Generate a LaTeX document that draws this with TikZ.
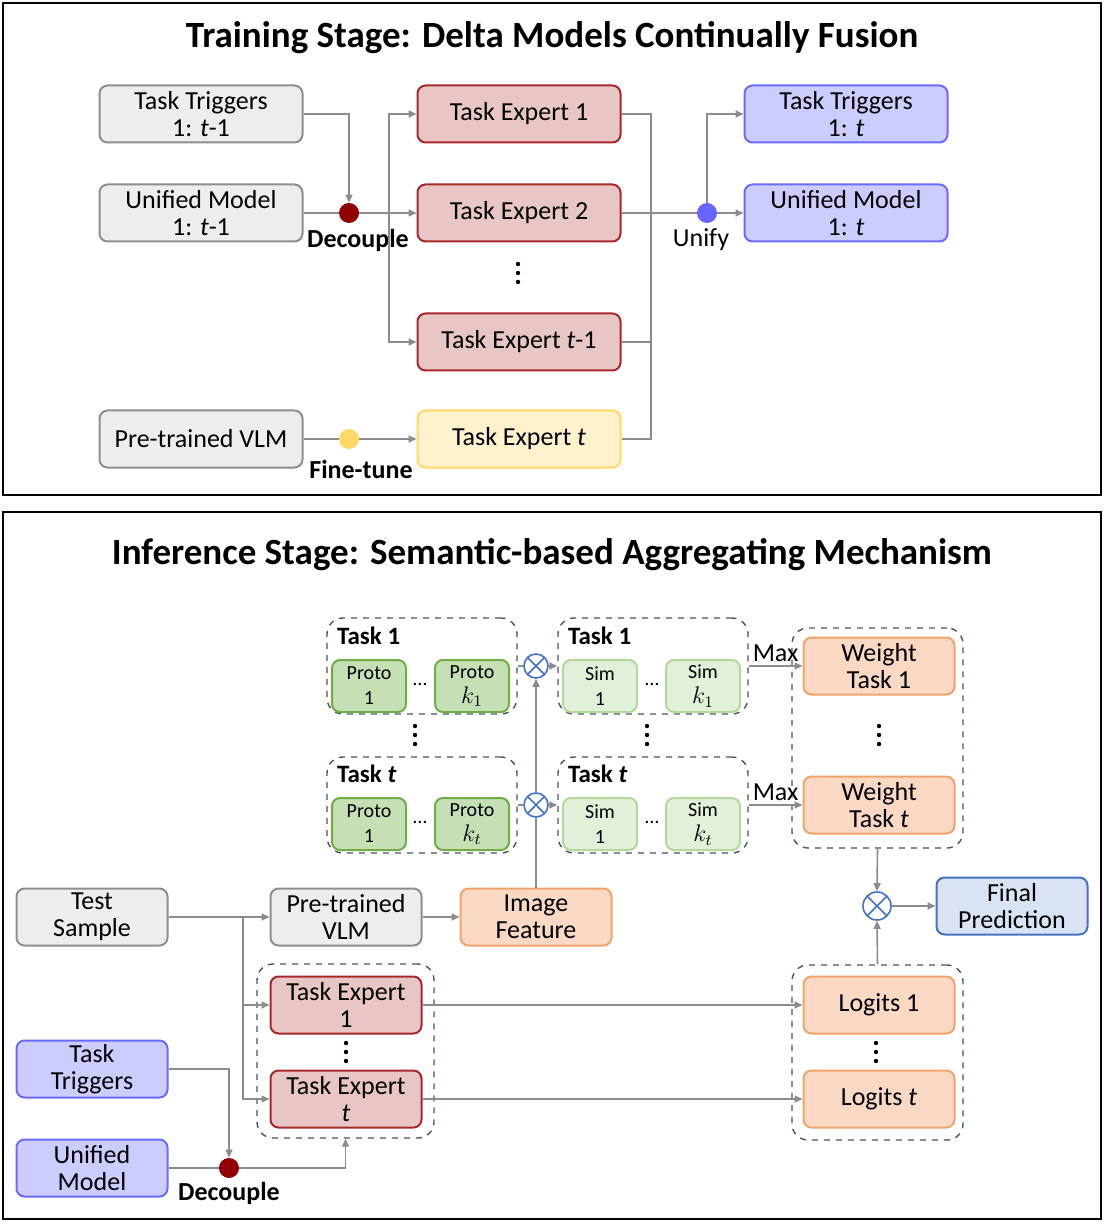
\documentclass[tikz,border=0pt]{standalone}
\usepackage{fontspec}
\setmainfont{Carlito}
\usetikzlibrary{arrows.meta}

\definecolor{linegray}{HTML}{8C8C8C}
\definecolor{plainline}{HTML}{8E8E8E}
\definecolor{plainfill}{HTML}{EDEDED}
\definecolor{expline}{HTML}{A8282C}
\definecolor{expfill}{HTML}{E8C6C6}
\definecolor{newline}{HTML}{FFD966}
\definecolor{newfill}{HTML}{FFF2CC}
\definecolor{trigline}{HTML}{6B6BFF}
\definecolor{trigfill}{HTML}{CCCCFF}
\definecolor{protoline}{HTML}{70AD47}
\definecolor{protofill}{HTML}{C5E0B4}
\definecolor{simline}{HTML}{B4D89C}
\definecolor{simfill}{HTML}{E2F0D9}
\definecolor{featline}{HTML}{F0A46C}
\definecolor{featfill}{HTML}{F9D9C4}
\definecolor{finalline}{HTML}{4472C4}
\definecolor{finalfill}{HTML}{DAE3F3}
\definecolor{groupline}{HTML}{44546A}
\definecolor{decred}{HTML}{900000}
\definecolor{unifyblue}{HTML}{6666FF}

\tikzset{
  box/.style={rectangle, rounded corners=4pt, line width=1pt, align=center, inner sep=1pt,
    font=\fontsize{13}{13.5}\selectfont},
  widebox/.style={box, minimum width=101.5pt, minimum height=28.5pt},
  smallbox/.style={box, minimum width=75.5pt, minimum height=28.5pt},
  tinybox/.style={box, minimum width=37pt, minimum height=26pt, font=\fontsize{10}{12.5}\selectfont},
  plain/.style={draw=plainline, fill=plainfill},
  expert/.style={draw=expline, fill=expfill},
  newtask/.style={draw=newline, fill=newfill},
  trigger/.style={draw=trigline, fill=trigfill},
  proto/.style={tinybox, draw=protoline, fill=protofill},
  sim/.style={tinybox, draw=simline, fill=simfill},
  feat/.style={draw=featline, fill=featfill},
  final/.style={draw=finalline, fill=finalfill},
  group/.style={draw=groupline, dashed, rounded corners=8pt, line width=0.7pt},
  wire/.style={draw=linegray, line width=0.8pt},
  conn/.style={wire, -{Triangle[length=4pt,width=3.5pt]}},
  dot/.style={circle, inner sep=0pt, minimum size=10pt},
  tag/.style={font=\fontsize{13}{13}\selectfont},
  boldtag/.style={font=\bfseries\fontsize{13}{13}\selectfont},
  grouptag/.style={anchor=west, font=\bfseries\fontsize{12.5}{13}\selectfont},
  hdot/.style={inner sep=0pt, font=\fontsize{10}{10}\selectfont},
  vdots/.pic={\fill[black] (0,-9) circle (1.1pt) (0,0) circle (1.1pt) (0,9) circle (1.1pt);},
  otimes/.style={circle, draw=finalline, fill=white, line width=0.8pt, minimum size=12pt, inner sep=0pt,
    path picture={\draw[finalline, line width=0.8pt]
      (path picture bounding box.north west) -- (path picture bounding box.south east)
      (path picture bounding box.north east) -- (path picture bounding box.south west);}}
}
\newcommand{\kidx}[1]{{\fontsize{12}{12}\selectfont$k_{#1}$}}

\begin{document}
\begin{tikzpicture}[x=0.5pt, y=-0.5pt]
		%%%%% START %%%%%
		\useasboundingbox (0,0) rectangle (1106,1224);
		\draw[line width=0.8pt] (3,3) rectangle (1101,495);
		\draw[line width=0.8pt] (3,512) rectangle (1101,1219);
		
		%%%%% TRAINING %%%%%
		\node[font=\bfseries\fontsize{18.5}{18.5}\selectfont] (title1) at (552,38) {Training Stage: Delta Models Continually Fusion};
		
		\node[widebox, plain] (trig) at (201,114) {Task Triggers\\1: \textit{t}-1};
		\node[widebox, plain] (unif) at (201,213) {Unified Model\\1: \textit{t}-1};
		\node[widebox, plain] (vlm) at (201,439) {Pre-trained VLM};
		
		\node[dot, fill=decred] (dec) at (349,213) {};
		\node[boldtag] (dectag) at (358,240) {Decouple};
		\node[dot, fill=newline] (tune) at (349,439) {};
		\node[boldtag] (tunetag) at (361,469) {Fine-tune};
		
		\node[widebox, expert] (exp1) at (519,114) {Task Expert 1};
		\node[widebox, expert] (exp2) at (519,213) {Task Expert 2};
		\pic (edots) at (518,273) {vdots};
		\node[widebox, expert] (expm) at (519,342) {Task Expert \textit{t}-1};
		\node[widebox, newtask] (expt) at (519,439) {Task Expert \textit{t}};
		
		\node[dot, fill=unifyblue] (uni) at (707,213) {};
		\node[tag] (unitag) at (701,240) {Unify};
		\node[widebox, trigger] (trig2) at (846,114) {Task Triggers\\1: \textit{t}};
		\node[widebox, trigger] (unif2) at (846,213) {Unified Model\\1: \textit{t}};
		
		\coordinate (split) at (389,213);
		\coordinate (merge) at (651,213);
		
		\draw[conn] (trig.east) -| (dec.north);
		\draw[wire] (unif.east) -- (dec.west);
		\draw[conn] (dec.east) -- (exp2.west);
		\draw[conn] (split) |- (exp1.west);
		\draw[conn] (split) |- (expm.west);
		\draw[wire] (vlm.east) -- (tune.west);
		\draw[conn] (tune.east) -- (expt.west);
		
		\draw[wire] (exp1.east) -| (merge);
		\draw[wire] (expm.east) -| (merge);
		\draw[wire] (expt.east) -| (merge);
		\draw[wire] (exp2.east) -- (uni.west);
		\draw[conn] (uni.east) -- (unif2.west);
		\draw[conn] (uni.north) |- (trig2.west);
		
		%%%%% INFERENCE %%%%%
		\node[font=\bfseries\fontsize{18.5}{18.5}\selectfont] (title2) at (552,555) {Inference Stage: Semantic-based Aggregating Mechanism};
		
		% prototypes and similarities
		\node[group, minimum width=95pt, minimum height=48pt] (pg1) at (422,666) {};
		\node[group, minimum width=95pt, minimum height=48pt] (pgt) at (422,805) {};
		\node[group, minimum width=95pt, minimum height=48pt] (sg1) at (653,666) {};
		\node[group, minimum width=95pt, minimum height=48pt] (sgt) at (653,805) {};
		\node[grouptag] (pt1) at (330,636) {Task 1};
		\node[grouptag] (ptt) at (330,774) {Task \textit{t}};
		\node[grouptag] (st1) at (561,636) {Task 1};
		\node[grouptag] (stt) at (561,774) {Task \textit{t}};
		
		\node[proto] (p11) at (369,686) {Proto\\1};
		\node[proto] (p1k) at (472,686) {Proto\\\kidx{1}};
		\node[proto] (pt1b) at (369,824) {Proto\\1};
		\node[proto] (ptk) at (472,824) {Proto\\\kidx{t}};
		\node[sim] (s11) at (600,686) {Sim\\1};
		\node[sim] (s1k) at (703,686) {Sim\\\kidx{1}};
		\node[sim] (st1b) at (600,824) {Sim\\1};
		\node[sim] (stk) at (703,824) {Sim\\\kidx{t}};
		\node[hdot] (pd1) at (420,684) {\ldots};
		\node[hdot] (pdt) at (420,822) {\ldots};
		\node[hdot] (sd1) at (652,684) {\ldots};
		\node[hdot] (sdt) at (652,822) {\ldots};
		\pic (pdots) at (415,735) {vdots};
		\pic (sdots) at (647,735) {vdots};
		
		\node[otimes] (mul1) at (536,666) {};
		\node[otimes] (mult) at (536,805) {};
		
		% weights
		\node[group, minimum width=85.5pt, minimum height=110pt] (wg) at (877.5,738) {};
		\node[smallbox, feat] (w1) at (879,666) {Weight\\Task 1};
		\pic (wdots) at (879,735) {vdots};
		\node[smallbox, feat] (wt) at (879,805) {Weight\\Task \textit{t}};
		
		% inputs
		\node[smallbox, plain] (test) at (92,917) {Test\\Sample};
		\node[smallbox, plain] (vlm2) at (346,917) {Pre-trained\\VLM};
		\node[smallbox, feat] (img) at (536,917) {Image\\Feature};
		\node[smallbox, trigger] (trig3) at (92,1069) {Task\\Triggers};
		\node[smallbox, trigger] (unif3) at (92,1168) {Unified\\Model};
		\node[dot, fill=decred] (dec2) at (229,1168) {};
		\node[boldtag] (dec2tag) at (229,1193) {Decouple};
		
		% experts and logits
		\node[group, minimum width=88.5pt, minimum height=87pt] (eg) at (345.5,1051) {};
		\node[smallbox, expert] (ex1) at (346,1005) {Task Expert\\1};
		\pic (xdots) at (346,1052) {vdots};
		\node[smallbox, expert] (ext) at (346,1099) {Task Expert\\\textit{t}};
		\node[group, minimum width=85.5pt, minimum height=87.5pt] (lg) at (877.5,1052.5) {};
		\node[smallbox, feat] (lo1) at (879,1005) {Logits 1};
		\pic (ldots) at (876,1052) {vdots};
		\node[smallbox, feat] (lot) at (879,1099) {Logits \textit{t}};
		
		\node[otimes, minimum size=14pt] (mulf) at (877,906) {};
		\node[smallbox, final] (pred) at (1012,906) {Final\\Prediction};
		
		\coordinate (fork) at (243,917);
		
		\draw[conn] (test.east) -- (vlm2.west);
		\draw[conn] (fork) |- (ex1.west);
		\draw[conn] (fork) |- (ext.west);
		\draw[conn] (vlm2.east) -- (img.west);
		\draw[wire] (img.north) -- (mult.south);
		\draw[conn] (mult.north) -- (mul1.south);
		\draw[wire] (pg1.east) -- (mul1.west);
		\draw[wire] (pgt.east) -- (mult.west);
		\draw[conn] (mul1.east) -- (sg1.west);
		\draw[conn] (mult.east) -- (sgt.west);
		\draw[conn] (sg1.east) -- (w1.west) node[midway, above, inner sep=2pt, tag] {Max};
		\draw[conn] (sgt.east) -- (wt.west) node[midway, above, inner sep=2pt, tag] {Max};
		\draw[conn] (wg.south) -- (mulf.north);
		\draw[conn] (lg.north) -- (mulf.south);
		\draw[conn] (mulf.east) -- (pred.west);
		\draw[conn] (ex1.east) -- (lo1.west);
		\draw[conn] (ext.east) -- (lot.west);
		\draw[conn] (trig3.east) -| (dec2.north);
		\draw[wire] (unif3.east) -- (dec2.west);
		\draw[conn] (dec2.east) -| (eg.south);
		
		%%%%% END %%%%%
	\end{tikzpicture}
\end{document}
